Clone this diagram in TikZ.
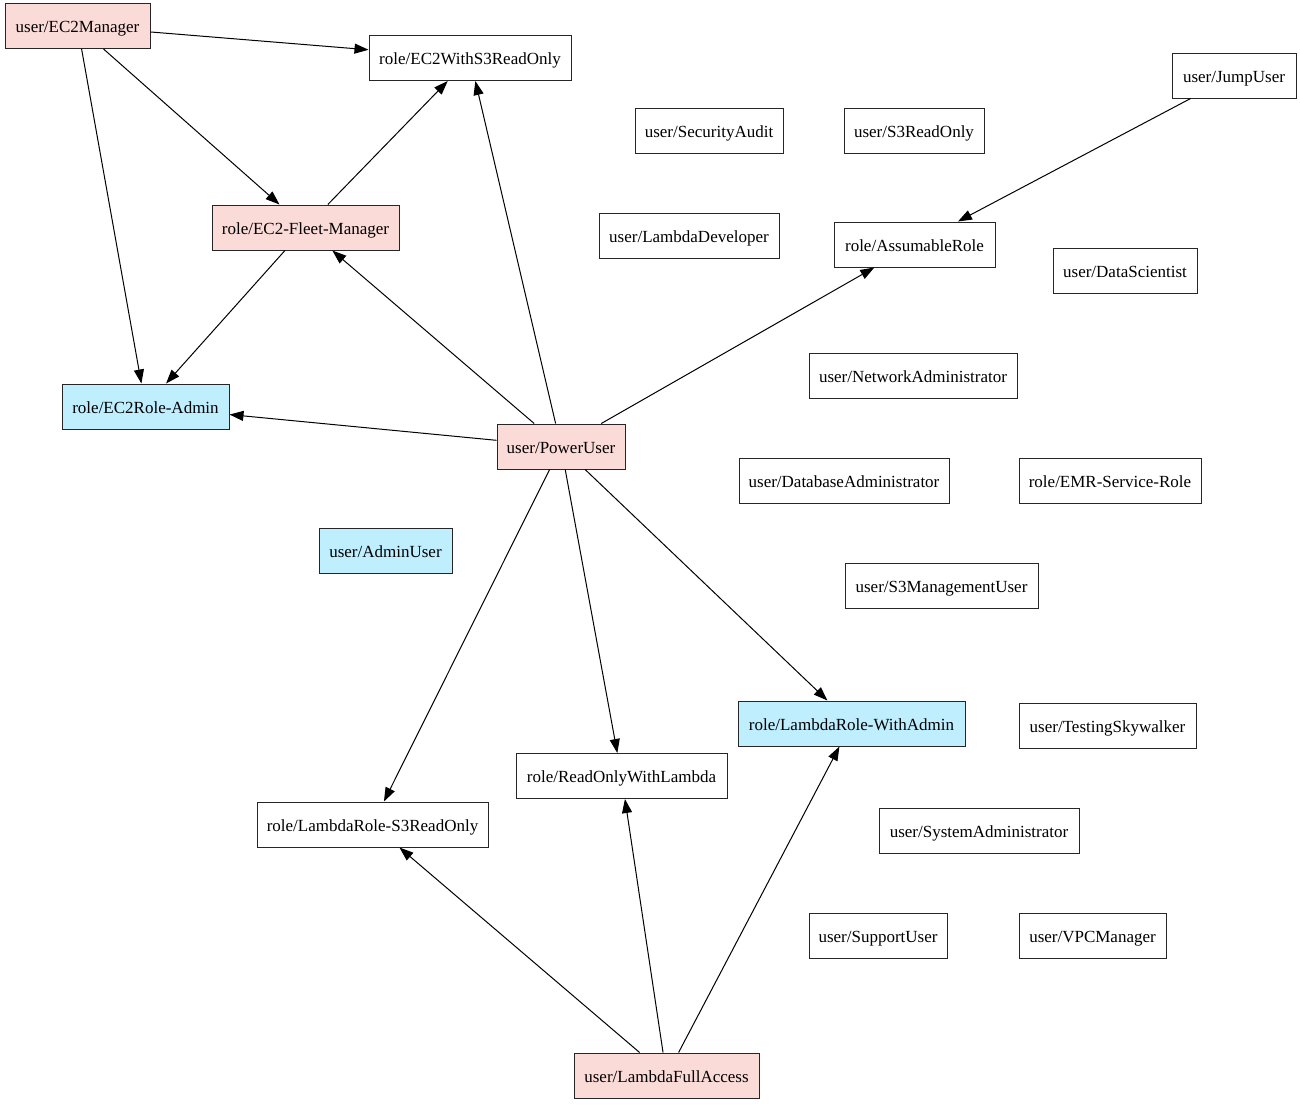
\documentclass[tikz,border=0pt]{standalone}
\usepackage{fontspec}
\setmainfont{Liberation Serif}
\usetikzlibrary{arrows.meta}
\definecolor{pinkfill}{HTML}{FADBD8}
\definecolor{bluefill}{HTML}{BFEEFF}
\tikzset{
  box/.style={draw=black!85, line width=1pt, rectangle, minimum height=45pt, inner xsep=2pt,
    text height=13.6pt, text depth=0pt,
    font=\fontsize{17}{20}\selectfont, fill=white},
  pinkbox/.style={box, fill=pinkfill},
  bluebox/.style={box, fill=bluefill},
  edge/.style={draw=black, line width=1pt, -{Triangle[length=14pt,width=10pt]}}
}
\begin{document}
\begin{tikzpicture}[x=1pt,y=-1pt]
\useasboundingbox (0,0) rectangle (1300,1104);
\node[pinkbox, minimum width=145pt] (ec2mgr) at (77.5,26) {user/EC2Manager};
\node[box, minimum width=202pt] (ec2s3) at (470,58) {role/EC2WithS3ReadOnly};
\node[box, minimum width=124pt] (jump) at (1234,75.5) {user/JumpUser};
\node[box, minimum width=148pt] (secaudit) at (709,130.5) {user/SecurityAudit};
\node[box, minimum width=140pt] (s3ro) at (914,130.5) {user/S3ReadOnly};
\node[pinkbox, minimum width=187pt] (fleet) at (305.5,227.5) {role/EC2-Fleet-Manager};
\node[box, minimum width=180pt] (lambdadev) at (689,235.5) {user/LambdaDeveloper};
\node[box, minimum width=161pt] (assum) at (914.5,244.5) {role/AssumableRole};
\node[box, minimum width=144pt] (datasci) at (1125,270.5) {user/DataScientist};
\node[box, minimum width=208pt] (netadm) at (913,375.5) {user/NetworkAdministrator};
\node[bluebox, minimum width=167pt] (ec2adm) at (145.5,406.5) {role/EC2Role-Admin};
\node[pinkbox, minimum width=128pt] (power) at (561,446.5) {user/PowerUser};
\node[box, minimum width=210pt] (dbadm) at (844,480.5) {user/DatabaseAdministrator};
\node[box, minimum width=182pt] (emr) at (1110,480.5) {role/EMR-Service-Role};
\node[bluebox, minimum width=133pt] (admin) at (385.5,550.5) {user/AdminUser};
\node[box, minimum width=193pt] (s3mgmt) at (941.5,585.5) {user/S3ManagementUser};
\node[bluebox, minimum width=227pt] (lwadm) at (851.5,723.5) {role/LambdaRole-WithAdmin};
\node[box, minimum width=177pt] (testing) at (1107.5,725.5) {user/TestingSkywalker};
\node[box, minimum width=211pt] (rowl) at (621.5,776) {role/ReadOnlyWithLambda};
\node[box, minimum width=231pt] (ls3ro) at (372.5,824.5) {role/LambdaRole-S3ReadOnly};
\node[box, minimum width=200pt] (sysadm) at (979,830.5) {user/SystemAdministrator};
\node[box, minimum width=138pt] (support) at (878,935.5) {user/SupportUser};
\node[box, minimum width=147pt] (vpc) at (1092.5,935.5) {user/VPCManager};
\node[pinkbox, minimum width=185pt] (lfa) at (666.5,1075.5) {user/LambdaFullAccess};

\draw[edge] (ec2mgr) -- (ec2s3);
\draw[edge] (ec2mgr) -- (fleet);
\draw[edge] (ec2mgr) -- (ec2adm);
\draw[edge] (fleet) -- (ec2s3);
\draw[edge] (fleet) -- (ec2adm);
\draw[edge] (power) -- (fleet);
\draw[edge] (power) -- (ec2s3);
\draw[edge] (power) -- (assum);
\draw[edge] (power) -- (ec2adm);
\draw[edge] (power) -- (ls3ro);
\draw[edge] (power) -- (rowl);
\draw[edge] (power) -- (lwadm);
\draw[edge] (jump) -- (assum);
\draw[edge] (lfa) -- (ls3ro);
\draw[edge] (lfa) -- (rowl);
\draw[edge] (lfa) -- (lwadm);
\end{tikzpicture}
\end{document}
